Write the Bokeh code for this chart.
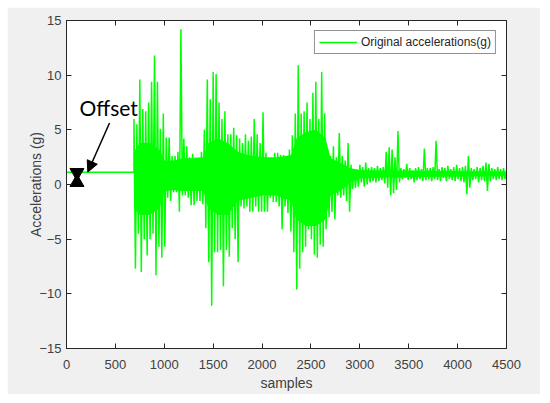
from bokeh.plotting import figure
from bokeh.models import Range1d, LinearAxis, Label, Arrow, NormalHead, FixedTicker
from bokeh.embed import file_html
from bokeh.resources import INLINE

# ---------------- data ----------------
x_ticks = [0, 500, 1000, 1500, 2000, 2500, 3000, 3500, 4000, 4500]
y_ticks = [-15, -10, -5, 0, 5, 10, 15]

offset_level = 1.13          # flat segment before the motion starts
offset_end = 690             # sample where the motion starts

bin_start = 690
bin_step = 30
env_samples = list(range(bin_start, 4501, bin_step))   # 128 bins

# peak (upper) and trough (lower) value reached in each bin
hi = [
    6.0, 5.5, 9.6, 6.9, 6.7, 7.5, 9.4, 11.8, 9.4, 5.1,
    6.5, 4.3, 4.3, 2.6, 2.6, 3.0, 14.2, 4.2, 3.5, 2.5,
    2.8, 2.5, 2.5, 3.0, 5.0, 9.6, 7.8, 10.3, 10.1, 7.5,
    6.0, 6.7, 4.6, 4.6, 5.2, 4.5, 4.2, 3.8, 4.6, 4.0,
    4.4, 6.0, 4.6, 3.8, 6.6, 2.9, 2.4, 2.4, 2.9, 2.9,
    2.7, 2.7, 2.5, 3.2, 4.5, 6.5, 10.9, 6.5, 6.7, 7.5,
    6.0, 8.4, 9.4, 6.0, 10.3, 6.5, 3.2, 2.6, 3.5, 2.5,
    4.7, 2.6, 2.2, 3.8, 1.8, 1.3, 1.4, 1.8, 1.6, 2.0,
    1.5, 1.6, 1.5, 1.7, 1.5, 1.6, 3.0, 3.4, 3.2, 2.5,
    4.9, 1.5, 1.4, 1.9, 1.5, 1.3, 1.5, 1.6, 1.4, 3.3,
    1.5, 1.5, 1.6, 4.0, 1.4, 1.6, 1.5, 1.7, 1.4, 1.6,
    1.8, 1.5, 1.6, 1.7, 2.6, 1.5, 1.4, 1.6, 1.5, 1.7,
    2.0, 1.9, 1.5, 1.4, 1.6, 1.4, 1.5, 1.3,
]
lo = [
    -7.7, -4.5, -8.0, -5.0, -6.5, -5.0, -4.5, -8.3, -5.7, -6.7,
    -5.7, -1.2, -1.5, -0.7, -0.7, -2.5, -1.0, -1.0, -1.2, -1.9,
    -1.9, -1.5, -1.5, -1.8, -4.0, -7.1, -11.1, -6.2, -6.2, -6.0,
    -9.3, -6.0, -6.6, -4.0, -5.0, -7.1, -2.0, -2.2, -2.0, -2.5,
    -2.5, -2.0, -2.5, -2.5, -2.5, -2.5, -1.2, -1.6, -1.6, -2.0,
    -4.1, -2.0, -2.6, -4.3, -6.2, -9.6, -7.7, -6.2, -5.7, -4.1,
    -5.0, -6.4, -6.7, -5.5, -5.7, -4.1, -3.0, -2.5, -3.2, -1.0,
    -1.2, -1.0, -1.5, -2.5, -0.4, -0.3, -0.2, 0.2, -0.2, 0.0,
    0.2, 0.3, 0.2, 0.3, 0.4, 0.1, -0.3, -1.0, -0.8, -0.5,
    0.2, 0.5, 0.6, 0.4, 0.5, 0.2, 0.4, 0.5, 0.3, 0.4,
    0.5, 0.3, 0.5, 0.4, 0.3, 0.6, 0.3, 0.5, 0.4, 0.3,
    0.5, 0.3, 0.2, -0.9, -0.3, 0.4, 0.5, 0.2, 0.4, 0.3,
    -0.6, 0.3, 0.5, 0.4, 0.5, 0.4, 0.5, 0.6,
]

# dense (solid-looking) core of the signal band
core_samples = [690, 750, 850, 950, 1000, 1100, 1200, 1300, 1400, 1450, 1550,
                1650, 1750, 1850, 2000, 2150, 2300, 2350, 2450, 2550, 2650,
                2700, 2800, 2900, 3000, 4500]
core_hi = [3.0, 3.8, 3.8, 3.2, 2.2, 2.2, 2.4, 2.4, 2.5, 3.8, 4.2,
           3.8, 3.0, 2.7, 2.5, 2.5, 2.7, 4.2, 4.8, 5.0, 4.2,
           2.4, 2.0, 1.5, 1.3, 1.2]
core_lo = [-2.2, -2.8, -2.8, -2.2, -0.6, -0.5, -0.6, -0.6, -0.6, -2.2, -2.8,
           -2.8, -1.5, -1.3, -1.0, -1.0, -1.5, -3.2, -3.8, -3.8, -3.2,
           -1.0, -0.6, 0.2, 0.6, 0.8]

# annotation ("Offset" marker, arrow and text)
offset_marker_x = 107
offset_marker_y = 0.64
offset_text_x = 133
offset_text_y = 7.0
arrow_start = (440, 5.63)
arrow_end = (218, 1.14)

# ---------------- build the signal ----------------
xs = [0, offset_end]
ys = [offset_level, offset_level]
for s, h, l in zip(env_samples, hi, lo):
    xs += [s, s + bin_step / 2]
    ys += [h, l]

GREEN = "#00ff00"
AX = "#262626"
TXT = "#404040"
FONT = "Liberation Sans"

p = figure(width=533, height=387, output_backend="svg", toolbar_location=None,
           x_range=Range1d(0, 4500), y_range=Range1d(-15, 15),
           min_border_left=59, min_border_right=34, min_border_top=13,
           min_border_bottom=46)
p.margin = (7, 0, 0, 7)
p.border_fill_color = "#f0f0f0"
p.background_fill_color = "white"
p.outline_line_color = AX
p.outline_line_width = 1
p.grid.visible = False

p.varea(x=core_samples, y1=core_lo, y2=core_hi, fill_color=GREEN, fill_alpha=1)
p.line(xs, ys, line_color=GREEN, line_width=1.5,
       legend_label="Original accelerations(g)")

# hourglass marker
p.scatter([offset_marker_x], [offset_marker_y + 0.45], marker="inverted_triangle",
          size=14, fill_color="black", line_color="black")
p.scatter([offset_marker_x], [offset_marker_y - 0.45], marker="triangle",
          size=14, fill_color="black", line_color="black")

p.add_layout(Arrow(end=NormalHead(size=11, fill_color="black", line_color="black"),
                   x_start=arrow_start[0], y_start=arrow_start[1],
                   x_end=arrow_end[0], y_end=arrow_end[1],
                   line_color="black", line_width=1.5))
p.add_layout(Label(x=offset_text_x, y=offset_text_y, text="Offset",
                   text_font="Lato", text_font_size="21px", text_color="black",
                   text_baseline="alphabetic"))

def style_axis(ax, labels=True):
    ax.axis_line_color = AX
    ax.major_tick_line_color = AX
    ax.major_tick_in = 5
    ax.major_tick_out = 0
    ax.minor_tick_line_color = None
    if labels:
        ax.major_label_text_font = FONT
        ax.major_label_text_font_size = "13px"
        ax.major_label_text_color = TXT
        ax.axis_label_text_font = FONT
        ax.axis_label_text_font_size = "14px"
        ax.axis_label_text_font_style = "normal"
        ax.axis_label_text_color = TXT
    else:
        ax.major_label_text_font_size = "0px"
        ax.major_label_text_alpha = 0
        ax.major_label_standoff = 0

xax = p.xaxis[0]
yax = p.yaxis[0]
xax.ticker = FixedTicker(ticks=x_ticks)
yax.ticker = FixedTicker(ticks=y_ticks)
xax.axis_label = "samples"
yax.axis_label = "Accelerations (g)"
style_axis(xax)
style_axis(yax)
xax.major_label_standoff = 11
xax.axis_label_standoff = 3
yax.major_label_standoff = 5
yax.axis_label_standoff = -8

top = LinearAxis(ticker=FixedTicker(ticks=x_ticks))
right = LinearAxis(ticker=FixedTicker(ticks=y_ticks))
style_axis(top, labels=False)
style_axis(right, labels=False)
p.add_layout(top, "above")
p.add_layout(right, "right")

lg = p.legend[0]
lg.location = "top_right"
lg.margin = 10
lg.padding = 4
lg.spacing = 0
lg.glyph_width = 38
lg.glyph_height = 12
lg.label_height = 12
lg.label_standoff = 4
lg.label_text_font = FONT
lg.label_text_font_size = "12px"
lg.label_text_color = "#262626"
lg.border_line_color = AX
lg.border_line_width = 1
lg.background_fill_color = "white"
lg.background_fill_alpha = 1

open("out.html", "w").write(file_html(p, INLINE))
